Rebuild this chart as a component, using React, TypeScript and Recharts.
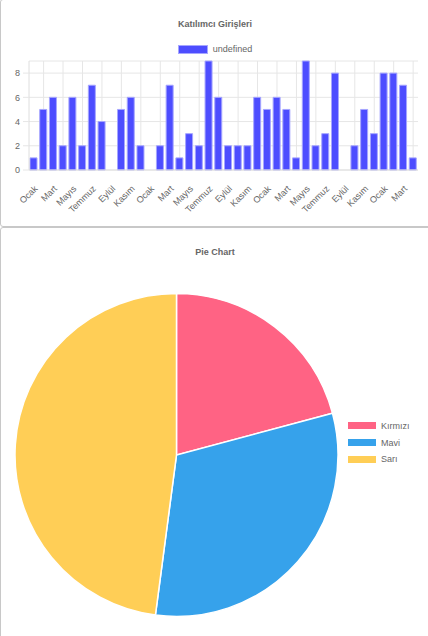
import React from "react";
import { BarChart, Bar, XAxis, YAxis, CartesianGrid, Legend, PieChart, Pie, Cell } from "recharts";

const FONT = "'Liberation Sans', Arial, Helvetica, sans-serif";

const categories = [
  "Ocak", "Şubat", "Mart", "Nisan", "Mayıs", "Haziran", "Temmuz", "Ağustos", "Eylül", "Ekim", "Kasım", "Aralık",
  "Ocak", "Şubat", "Mart", "Nisan", "Mayıs", "Haziran", "Temmuz", "Ağustos", "Eylül", "Ekim", "Kasım", "Aralık",
  "Ocak", "Şubat", "Mart", "Nisan", "Mayıs", "Haziran", "Temmuz", "Ağustos", "Eylül", "Ekim", "Kasım", "Aralık",
  "Ocak", "Şubat", "Mart", "Nisan",
];
const participantCounts = [
  1, 5, 6, 2, 6, 2, 7, 4, 0, 5, 6, 2,
  0, 2, 7, 1, 3, 2, 9, 6, 2, 2, 2, 6,
  5, 6, 5, 1, 9, 2, 3, 8, 0, 2, 5, 3,
  8, 8, 7, 1,
];
const yTicks = [0, 2, 4, 6, 8];
const barSeriesName = "undefined";
const barTitle = "Katılımcı Girişleri";

const pieTitle = "Pie Chart";
const pieLabels = ["Kırmızı", "Mavi", "Sarı"];
const pieValues = [10, 15, 23];
const pieColors = ["#FF6384", "#36A2EB", "#FFCE56"];

const BAR_FILL = "#4d4dff";
const BAR_STROKE = "#a6a6ff";

const barData = categories.map((month, i) => ({ month, value: participantCounts[i] }));
const pieData = pieLabels.map((name, i) => ({ name, value: pieValues[i], fill: pieColors[i] }));

const XTick = (props: any) => {
  const { x, y, payload } = props;
  return (
    <g transform={`translate(${x + 2},${y + 9})`}>
      <text
        x={0}
        y={0}
        dy="0.35em"
        textAnchor="end"
        transform="rotate(-45)"
        fill="#666"
        fontSize={9}
        fontFamily={FONT}
      >
        {payload.value}
      </text>
    </g>
  );
};

const BarLegend = (props: any) => {
  const items = props.payload || [];
  return (
    <div
      style={{
        display: "flex",
        justifyContent: "center",
        alignItems: "center",
        fontFamily: FONT,
        fontSize: 9,
        color: "#666",
        lineHeight: "11px",
      }}
    >
      {items.map((it: any, i: number) => (
        <div key={i} style={{ display: "flex", alignItems: "center" }}>
          <span
            style={{
              display: "inline-block",
              width: 30,
              height: 9,
              boxSizing: "border-box",
              background: BAR_FILL,
              border: `1px solid ${BAR_STROKE}`,
              marginRight: 5,
            }}
          />
          <span>{it.value}</span>
        </div>
      ))}
    </div>
  );
};

const PieLegend = (props: any) => {
  const items = props.payload || [];
  return (
    <div style={{ fontFamily: FONT, fontSize: 9, color: "#666" }}>
      {items.map((it: any, i: number) => (
        <div key={i} style={{ display: "flex", alignItems: "center", height: 16.7 }}>
          <span
            style={{
              display: "inline-block",
              width: 28,
              height: 7,
              background: pieColors[i] || it.color,
              marginRight: 5,
            }}
          />
          <span>{it.value}</span>
        </div>
      ))}
    </div>
  );
};

const titleStyle = (top: number): React.CSSProperties => ({
  position: "absolute",
  left: 0,
  top,
  width: 430,
  textAlign: "center",
  fontFamily: FONT,
  fontSize: 9,
  fontWeight: "bold",
  color: "#666",
  lineHeight: "10px",
  whiteSpace: "nowrap",
});

export default function App() {
  const verticalGen = ({ offset }: any) => {
    const n = categories.length;
    const out: number[] = [];
    for (let i = 1; i < n; i += 2) {
      out.push(offset.left + (offset.width * (i + 0.5)) / n);
    }
    return out;
  };

  return (
    <div
      style={{
        position: "absolute",
        left: 0,
        top: 0,
        width: 428,
        height: 636,
        overflow: "hidden",
        background: "#fff",
      }}
    >
      <div
        style={{
          position: "absolute",
          left: 0,
          top: -1,
          width: 440,
          height: 228,
          border: "1px solid #c8c8c8",
          borderRadius: 3,
          boxSizing: "border-box",
          background: "#fff",
        }}
      />
      <div
        style={{
          position: "absolute",
          left: 0,
          top: 227,
          width: 440,
          height: 420,
          border: "1px solid #c8c8c8",
          borderRadius: 3,
          boxSizing: "border-box",
          background: "#fff",
        }}
      />

      <div style={titleStyle(19.2)}>{barTitle}</div>
      <div style={{ position: "absolute", left: 0, top: 0 }}>
        <BarChart
          width={430}
          height={227}
          data={barData}
          margin={{ top: 61, right: 12, bottom: 0, left: 0 }}
        >
          <CartesianGrid stroke="#e6e6e6" verticalCoordinatesGenerator={verticalGen} />
          <XAxis
            dataKey="month"
            interval={1}
            height={57}
            tick={<XTick />}
            tickLine={false}
            tickSize={6}
            tickMargin={2}
            axisLine={{ stroke: "#dedede" }}
          />
          <YAxis
            width={29}
            domain={[0, 9]}
            ticks={yTicks}
            tick={{ fill: "#666", fontSize: 9, fontFamily: FONT }}
            tickLine={{ stroke: "#e6e6e6" }}
            tickSize={6}
            tickMargin={3}
            axisLine={{ stroke: "#dedede" }}
          />
          <Legend
            layout="horizontal"
            align="center"
            verticalAlign="middle"
            content={<BarLegend />}
            wrapperStyle={{ top: 43.8, left: 0, width: 430 }}
          />
          <Bar
            dataKey="value"
            name={barSeriesName}
            fill={BAR_FILL}
            stroke={BAR_STROKE}
            strokeWidth={1}
            barSize={7}
            isAnimationActive={false}
          />
        </BarChart>
      </div>

      <div style={titleStyle(246.9)}>{pieTitle}</div>
      <div style={{ position: "absolute", left: 0, top: 228 }}>
        <PieChart width={430} height={408} margin={{ top: 0, right: 0, bottom: 0, left: 0 }}>
          <Pie
            data={pieData}
            dataKey="value"
            nameKey="name"
            cx={176.5}
            cy={227}
            outerRadius={161.5}
            startAngle={90}
            endAngle={-270}
            stroke="#fff"
            strokeWidth={1.5}
            isAnimationActive={false}
          >
            {pieData.map((d, i) => (
              <Cell key={i} fill={d.fill} />
            ))}
          </Pie>
          <Legend
            layout="vertical"
            align="center"
            verticalAlign="middle"
            content={<PieLegend />}
            wrapperStyle={{ top: 189.5, left: 348, width: 80 }}
          />
        </PieChart>
      </div>
    </div>
  );
}
